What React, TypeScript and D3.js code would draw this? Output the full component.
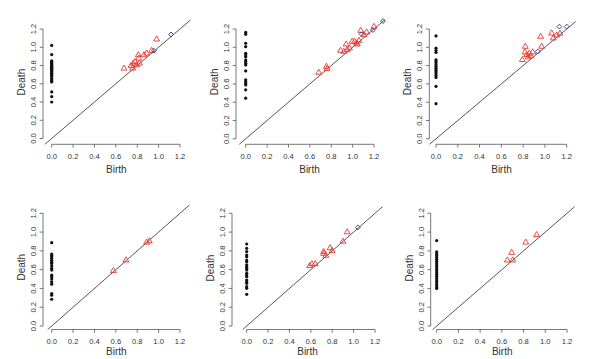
import React from "react";
import * as d3 from "d3";

const tickValues = [0, 0.2, 0.4, 0.6, 0.8, 1.0, 1.2];
const tickLabels = ["0.0", "0.2", "0.4", "0.6", "0.8", "1.0", "1.2"];
const xTitle = "Birth";
const yTitle = "Death";

// Panel 1
const p1Dim0 = [1.02, 0.92, 0.85, 0.84, 0.83, 0.82, 0.81, 0.8, 0.79, 0.78, 0.77, 0.76, 0.75, 0.74, 0.73, 0.72, 0.71, 0.7, 0.69, 0.68, 0.66, 0.64, 0.63, 0.62, 0.51, 0.46, 0.4];
const p1Dim1 = [[0.676, 0.768], [0.742, 0.798], [0.757, 0.768], [0.764, 0.823], [0.779, 0.84], [0.795, 0.805], [0.81, 0.915], [0.815, 0.878], [0.82, 0.823], [0.863, 0.915], [0.888, 0.933], [0.935, 0.962], [0.982, 1.087]];
const p1Dim2 = [[0.957, 0.962], [1.116, 1.14]];

// Panel 2
const p2Dim0 = [1.164, 1.142, 1.044, 1.007, 0.935, 0.916, 0.898, 0.862, 0.844, 0.825, 0.807, 0.742, 0.644, 0.625, 0.607, 0.589, 0.535, 0.444];
const p2Dim1 = [[0.683, 0.724], [0.755, 0.789], [0.761, 0.764], [0.887, 0.964], [0.918, 0.953], [0.94, 1.033], [0.949, 0.971], [0.971, 0.989], [0.996, 1.062], [1.018, 1.062], [1.037, 1.044], [1.043, 1.033], [1.059, 1.073], [1.075, 1.182], [1.106, 1.135], [1.131, 1.164], [1.2, 1.225]];
const p2Dim2 = [[1.084, 1.142], [1.19, 1.189], [1.284, 1.287]];

// Panel 3
const p3Dim0 = [1.124, 0.99, 0.964, 0.943, 0.863, 0.85, 0.83, 0.81, 0.79, 0.77, 0.75, 0.73, 0.71, 0.69, 0.67, 0.573, 0.384];
const p3Dim1 = [[0.793, 0.863], [0.817, 0.946], [0.82, 1.008], [0.833, 0.917], [0.848, 0.892], [0.857, 0.932], [0.869, 0.906], [0.888, 0.946], [0.961, 1.117], [0.97, 1.008], [1.062, 1.153], [1.077, 1.099], [1.108, 1.131], [1.139, 1.15]];
const p3Dim2 = [[0.934, 0.954], [1.133, 1.226], [1.2, 1.226]];

// Panel 4
const p4Dim0 = [0.887, 0.766, 0.75, 0.737, 0.72, 0.7, 0.68, 0.666, 0.64, 0.613, 0.595, 0.541, 0.523, 0.5, 0.47, 0.445, 0.345, 0.328, 0.285];
const p4Dim1 = [[0.577, 0.588], [0.695, 0.7], [0.888, 0.89], [0.913, 0.904]];
const p4Dim2: number[][] = [];

// Panel 5
const p5Dim0 = [0.873, 0.827, 0.792, 0.756, 0.738, 0.703, 0.685, 0.65, 0.632, 0.614, 0.596, 0.561, 0.543, 0.525, 0.49, 0.472, 0.454, 0.419, 0.401, 0.337];
const p5Dim1 = [[0.59, 0.64], [0.61, 0.66], [0.64, 0.66], [0.72, 0.77], [0.72, 0.79], [0.74, 0.75], [0.78, 0.83], [0.8, 0.8], [0.9, 0.9], [0.94, 1.0]];
const p5Dim2 = [[1.04, 1.05]];

// Panel 6
const p6Dim0 = [0.91, 0.79, 0.77, 0.75, 0.73, 0.71, 0.69, 0.67, 0.65, 0.63, 0.61, 0.59, 0.57, 0.55, 0.53, 0.51, 0.49, 0.47, 0.45, 0.43, 0.41, 0.4];
const p6Dim1 = [[0.65, 0.7], [0.69, 0.78], [0.7, 0.7], [0.82, 0.89], [0.92, 0.97]];
const p6Dim2: number[][] = [];

const panelData = [
  { d0: p1Dim0, d1: p1Dim1, d2: p1Dim2 },
  { d0: p2Dim0, d1: p2Dim1, d2: p2Dim2 },
  { d0: p3Dim0, d1: p3Dim1, d2: p3Dim2 },
  { d0: p4Dim0, d1: p4Dim1, d2: p4Dim2 },
  { d0: p5Dim0, d1: p5Dim1, d2: p5Dim2 },
  { d0: p6Dim0, d1: p6Dim1, d2: p6Dim2 },
];

// layout (pixel geometry) per panel
const layouts = [
  { x0: 51.7, x12: 180, y0: 138.5, y12: 29, axX: 43, axY: 144.3, right: 191.7, top: 20, lab: 14.5, tit: 29 },
  { x0: 245.7, x12: 374, y0: 138.8, y12: 29, axX: 236, axY: 144.3, right: 385, top: 19.3, lab: 14.5, tit: 29 },
  { x0: 436, x12: 566.7, y0: 138.8, y12: 29, axX: 429.3, axY: 144.3, right: 575.7, top: 19.3, lab: 14.5, tit: 29 },
  { x0: 51.7, x12: 180, y0: 326, y12: 213.3, axX: 43, axY: 329.5, right: 191.7, top: 205, lab: 14.5, tit: 25.5 },
  { x0: 246.7, x12: 375, y0: 326, y12: 213.3, axX: 232, axY: 329.5, right: 385, top: 206.7, lab: 14.5, tit: 25.5 },
  { x0: 436.7, x12: 567, y0: 326, y12: 213.3, axX: 430.7, axY: 329.5, right: 575.7, top: 206.7, lab: 14.5, tit: 25.5 },
];

const RED = "#e8352e";
const BLUE = "#2f3f9e";
const AXIS = "#555";
const TEXT = "#333";
const FONT = "'Liberation Sans', Arial, Helvetica, sans-serif";

const tri = d3.symbol().type(d3.symbolTriangle).size(15)()!;
const diamond = d3.symbol().type(d3.symbolSquare).size(12)()!;

function Panel({ L, D }: { L: any; D: any }) {
  const x = d3.scaleLinear().domain([0, 1.2]).range([L.x0, L.x12]);
  const y = d3.scaleLinear().domain([0, 1.2]).range([L.y0, L.y12]);
  const xmin = x.invert(L.axX), xmax = x.invert(L.right);
  const ymin = y.invert(L.axY), ymax = y.invert(L.top);
  const t0 = Math.max(xmin, ymin), t1 = Math.min(xmax, ymax);
  const tl = 3.3;
  return (
    <g>
      <line x1={x(t0)} y1={y(t0)} x2={x(t1)} y2={y(t1)} stroke="#444" strokeWidth={0.9} />
      <line x1={x(0)} x2={x(1.2)} y1={L.axY} y2={L.axY} stroke={AXIS} strokeWidth={0.8} />
      {tickValues.map((t, i) => (
        <g key={"xt" + i}>
          <line x1={x(t)} x2={x(t)} y1={L.axY} y2={L.axY + tl} stroke={AXIS} strokeWidth={0.8} />
          <text x={x(t)} y={L.axY + L.lab} textAnchor="middle" fontSize={7.6} fill={TEXT} fontFamily={FONT}>{tickLabels[i]}</text>
        </g>
      ))}
      <line x1={L.axX} x2={L.axX} y1={y(0)} y2={y(1.2)} stroke={AXIS} strokeWidth={0.8} />
      {tickValues.map((t, i) => (
        <g key={"yt" + i}>
          <line x1={L.axX - tl} x2={L.axX} y1={y(t)} y2={y(t)} stroke={AXIS} strokeWidth={0.8} />
          <text transform={`translate(${L.axX - 7},${y(t)}) rotate(-90)`} textAnchor="middle" fontSize={7.6} fill={TEXT} fontFamily={FONT}>{tickLabels[i]}</text>
        </g>
      ))}
      <text x={(L.axX + L.right) / 2 - 1} y={L.axY + L.tit} textAnchor="middle" fontSize={10} fill={TEXT} fontFamily={FONT}>{xTitle}</text>
      <text transform={`translate(${L.axX - 18},${(L.axY + L.top) / 2}) rotate(-90)`} textAnchor="middle" fontSize={10} fill={TEXT} fontFamily={FONT}>{yTitle}</text>
      {D.d0.map((v: number, i: number) => (
        <circle key={"a" + i} cx={x(0)} cy={y(v)} r={1.6} fill="#111" />
      ))}
      {D.d1.map((p: number[], i: number) => (
        <path key={"b" + i} d={tri} transform={`translate(${x(p[0])},${y(p[1])})`} fill="none" stroke={RED} strokeWidth={0.9} />
      ))}
      {D.d2.map((p: number[], i: number) => (
        <path key={"c" + i} d={diamond} transform={`translate(${x(p[0])},${y(p[1])}) rotate(45)`} fill="none" stroke={BLUE} strokeWidth={0.9} />
      ))}
    </g>
  );
}

export default function App() {
  return (
    <svg width={600} height={359} style={{ position: "absolute", left: 0, top: 0, background: "#fff" }}>
      <rect width={600} height={359} fill="#fff" />
      {layouts.map((L, i) => (
        <Panel key={i} L={L} D={panelData[i]} />
      ))}
    </svg>
  );
}
